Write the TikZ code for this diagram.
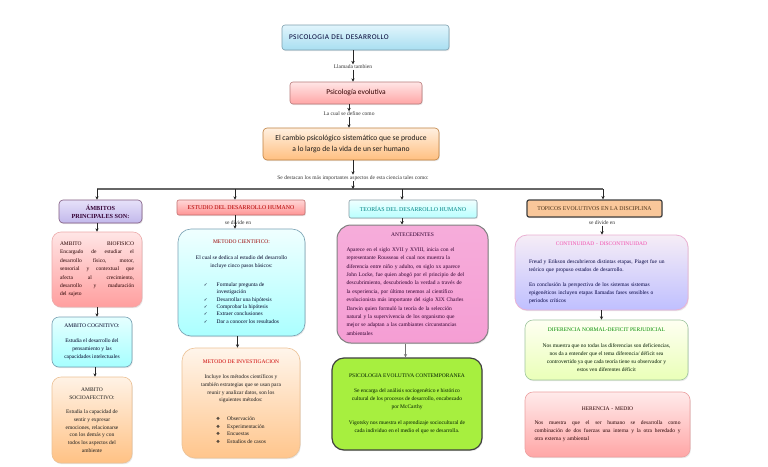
\documentclass[tikz,border=0pt]{standalone}
\usepackage{fontspec}
\setmainfont{Liberation Serif}
\newfontfamily\calib{Carlito}
\newfontfamily\calibsp[LetterSpace=6]{Carlito}
\newfontfamily\djv{DejaVu Sans}
\usetikzlibrary{arrows.meta,shadows}
\newcommand\fs{\fontsize{5.5}{8}\selectfont}
\newcommand\jl[2]{\makebox[#1][s]{\spaceskip=0.25em plus 1fil\relax #2}}
\definecolor{antpink}{RGB}{245,158,212}
\definecolor{evogreen}{RGB}{167,239,63}
\definecolor{topor}{RGB}{249,199,154}
\definecolor{lavtop}{RGB}{230,225,249}
\definecolor{lavbot}{RGB}{194,184,235}
\definecolor{b1top}{RGB}{225,245,252}
\definecolor{b1bot}{RGB}{168,222,241}
\begin{document}
\begin{tikzpicture}[x=1pt,y=-1pt,
  bx/.style={rounded corners=#1, inner sep=2pt, line width=0.6pt, align=center, font=\fs,
    drop shadow={opacity=0.18,shadow xshift=0.8pt,shadow yshift=-1.2pt}},
  bx/.default=8pt,
  lb/.style={font=\fontsize{5.5}{6.5}\selectfont, inner sep=0.6pt, text=black!80},
  arr/.style={-{Stealth[length=3.4pt,width=3.4pt]}, line width=0.7pt, draw=black!85},
  arrg/.style={-{Stealth[length=3.4pt,width=3.4pt,open]}, line width=0.6pt, draw=black!55}]
\path[use as bounding box, fill=white] (0,0) rectangle (768,466);

% ---- top chain ----
\node[bx=3pt, top color=b1top, bottom color=b1bot, draw=cyan!30!gray,
  minimum width=167pt, minimum height=25pt, text width=153pt, align=left, inner xsep=7pt,
  font=\calibsp\fontsize{7.3}{8}\selectfont, text=blue!20!black] (b1) at (365.5,37.5) {PSICOLOGIA DEL DESARROLLO};
\node[lb] (l1) at (353,67) {Llamada tambien};
\node[bx=3pt, top color=red!10, bottom color=red!35!white, draw=red!30!gray!80,
  minimum width=132pt, minimum height=22pt, font=\calib\fontsize{7.5}{9}\selectfont, text=red!20!black] (b2) at (356,93) {Psicología evolutiva};
\node[lb] (l2) at (349,114) {La cual se define como};
\node[bx=4pt, top color=orange!12, bottom color=orange!50!white, draw=orange!50!gray,
  minimum width=176pt, minimum height=32pt, font=\calib\fontsize{7.6}{11.5}\selectfont, text=black!90] (b3) at (351,144)
  {El cambio psicológico sistemático que se produce\\ a lo largo de la vida de un ser humano};
\node[lb] (l3) at (353,178) {Se destacan los más importantes aspectos de esta ciencia tales como:};

\draw[arr] (b1.south -| l1) -- (l1.north);
\draw[arr] (l1.south) -- (l1.south |- b2.north);
\draw[arr] (b2.south -| l2) -- (l2.north);
\draw[arr] (l2.south) -- (l2.south |- b3.north);
\draw[arr] (b3.south -| l3) -- (l3.north);

\coordinate (d1) at (97,189);
\coordinate (d2) at (235,189);
\coordinate (d3) at (402,189);
\coordinate (d4) at (603,189);
\draw[line width=1.2pt, draw=black!60] (d1) -- (d4);
\draw[arr] (l3.south) -- (l3.south |- d1);

% ---- column 1 ----
\node[bx=4pt, top color=lavtop, bottom color=lavbot, draw=violet!30!gray,
  minimum width=83pt, minimum height=23pt, font=\bfseries\fontsize{6.2}{8}\selectfont, text=violet!40!black] (amb) at (100.5,211.5) {ÁMBITOS\\PRINCIPALES SON:};
\node[bx=9pt, top color=red!10, bottom color=red!38!white, draw=red!30!white!85!gray,
  minimum width=90pt, minimum height=75pt, text width=74pt, align=left, font=\fontsize{5.5}{8.4}\selectfont, text=red!15!black] (bio) at (97,269.5)
  {\jl{74pt}{AMBITO BIOFISICO}\\ \jl{74pt}{Encargado de estudiar el}\\ \jl{74pt}{desarrollo físico, motor,}\\ \jl{74pt}{sensorial y contextual que}\\ \jl{74pt}{afecta al crecimiento,}\\ \jl{74pt}{desarrollo y maduración}\\ del sujeto};
\node[bx=7pt, top color=cyan!10, bottom color=cyan!35!white, draw=cyan!35!gray,
  minimum width=80pt, minimum height=50pt, text=blue!15!black] (cog) at (92,342)
  {AMBITO COGNITIVO:\\[7pt] Estudia el desarrollo del\\ pensamiento y las\\ capacidades intelectuales};
\node[bx=9pt, top color=orange!10, bottom color=orange!48!white, draw=orange!40!white!85!gray,
  minimum width=80pt, minimum height=86pt, font=\fontsize{5.5}{7.7}\selectfont, text=black!90] (soc) at (92,420)
  {AMBITO\\ SOCIOAFECTIVO:\\[7pt] Estudia la capacidad de\\ sentir y expresar\\ emociones, relacionarse\\ con los demás y con\\ todos los aspectos del\\ ambiente};

\draw[arr] (d1) -- (d1 |- amb.north);
\draw[arr] (bio.north |- amb.south) -- (bio.north);
\draw[arr] (bio.south) -- (bio.south |- cog.north);
\draw[arr] ([xshift=3pt]cog.south) -- ([xshift=3pt]cog.south |- soc.north);

% ---- column 2 ----
\node[bx=2pt, top color=red!16, bottom color=red!42!white, draw=red!40!gray!80,
  minimum width=128pt, minimum height=15pt, font=\fontsize{5.9}{8}\selectfont, text=red!70!black] (est) at (241,207.5) {ESTUDIO DEL DESARROLLO HUMANO};
\node[lb] (l4) at (238,223) {se divide en};
\node[bx=13pt, top color=cyan!6, bottom color=cyan!33!white, draw=cyan!35!gray,
  minimum width=127pt, minimum height=107pt, text=blue!15!black] (mc) at (241.5,282.5)
  {\textcolor{red!60!black}{METODO CIENTIFICO:}\\[8pt] El cual se dedica al estudio del desarrollo\\ incluye cinco pasos básicos:\\[12pt]
  {\fontsize{5.5}{7.4}\selectfont\begin{tabular}{@{}l@{\hspace{9pt}}l@{}}
  {\djv\fontsize{4.5}{6}\selectfont ✓} & Formular pregunta de\\
   & investigación\\
  {\djv\fontsize{4.5}{6}\selectfont ✓} & Desarrollar una hipótesis\\
  {\djv\fontsize{4.5}{6}\selectfont ✓} & Comprobar la hipótesis\\
  {\djv\fontsize{4.5}{6}\selectfont ✓} & Extraer conclusiones\\
  {\djv\fontsize{4.5}{6}\selectfont ✓} & Dar a conocer los resultados
  \end{tabular}}};
\node[bx=13pt, top color=orange!8, bottom color=orange!45!white, draw=orange!40!white!85!gray,
  minimum width=118pt, minimum height=110pt, font=\fontsize{5.5}{7.7}\selectfont, text=black!90] (mi) at (241,403)
  {\textcolor{red!80!black}{METODO DE INVESTIGACION}\\[7pt] Incluye los métodos científicos y\\ también estrategias que se usan para\\ reunir y analizar datos, son los\\ siguientes métodos:\\[11pt]
  {\fontsize{5.5}{7.7}\selectfont\begin{tabular}{@{}l@{\hspace{7pt}}l@{}}
  {\djv\fontsize{4.5}{6}\selectfont ❖} & Observación\\
  {\djv\fontsize{4.5}{6}\selectfont ❖} & Experimentación\\
  {\djv\fontsize{4.5}{6}\selectfont ❖} & Encuestas\\
  {\djv\fontsize{4.5}{6}\selectfont ❖} & Estudios de casos
  \end{tabular}\hspace{14pt}}};

\draw[arr] (d2) -- (d2 |- est.north);
\draw[arr] (d2 |- est.south) -- (d2 |- mc.north);
\draw[arr] ([xshift=-4pt]mc.south) -- ([xshift=-4pt]mc.south |- mi.north);

% ---- column 3 ----
\node[bx=2pt, top color=cyan!6, bottom color=cyan!28!white, draw=cyan!20!gray,
  minimum width=128pt, minimum height=18pt, font=\fontsize{5.9}{8}\selectfont, text=teal!70!cyan!80!black] (teo) at (413,209) {TEORÍAS DEL DESARROLLO HUMANO};
\node[bx=14pt, top color=antpink!85!white, bottom color=antpink, draw=black!50, line width=1pt,
  minimum width=151pt, minimum height=118pt, text width=132pt, align=left, font=\fontsize{5.5}{8.4}\selectfont, text=violet!35!black] (ante) at (412.5,284)
  {\makebox[132pt][c]{ANTECEDENTES}\\[6.5pt]
  Aparece en el siglo XVII y XVIII, inicia con el\\
  representante Rousseau el cual nos muestra la\\
  diferencia entre niño y adulto, en siglo xx aparece\\
  John Locke, fue quien abogó por el principio de del\\
  descubrimiento, descubriendo la verdad a través de\\
  la experiencia, por último tenemos al científico\\
  evolucionista más importante del siglo XIX Charles\\
  Darwin quien formuló la teoría de la selección\\
  natural y la supervivencia de los organismo que\\
  mejor se adaptan a las cambiantes circunstancias\\
  ambientales};
\node[bx=12pt, fill=evogreen, draw=black!75, line width=1.2pt,
  minimum width=150pt, minimum height=92pt, text=green!10!black] (evo) at (407,404)
  {PSICOLOGIA EVOLUTIVA CONTEMPORANEA\\[7pt]
  Se encarga del análisis sociogenético e histórico\\ cultural de los procesos de desarrollo, encabezado\\ por McCarthy\\[8pt]
  Vigotsky nos muestra el aprendizaje sociocultural de\\ cada individuo en el medio el que se desarrolla.};

\draw[arr] (d3) -- (d3 |- teo.north);
\draw[arr] (d3 |- teo.south) -- (d3 |- ante.north);
\draw[arrg] ([xshift=-7pt]ante.south) -- ([xshift=-7pt]ante.south |- evo.north);

% ---- column 4 ----
\node[bx=2pt, fill=topor, draw=black!75, line width=1.2pt,
  minimum width=135pt, minimum height=17pt, font=\fontsize{5.8}{8}\selectfont, text=brown!40!black] (top) at (594.5,208.5) {TOPICOS EVOLUTIVOS EN LA DISCIPLINA};
\node[lb] (l5) at (602,223) {se divide en};
\node[bx=12pt, top color=violet!7, bottom color=blue!25!white, draw=magenta!30!white!85!gray, line width=0.8pt,
  minimum width=173pt, minimum height=75pt, text width=145pt, align=left, text=blue!25!black] (cont) at (601.5,272.5)
  {\makebox[145pt][c]{\textcolor{magenta!70!white}{CONTINUIDAD - DISCONTINUIDAD}}\\[10pt]
  Freud y Erikson descubrieron distintas etapas, Piaget fue un\\ teórico que propuso estados de desarrollo.\\[7pt]
  En conclusión la perspectiva de los sistemas sistemas\\ epigenéticos incluyen etapas llamadas fases sensibles o\\ periodos críticos};
\node[bx=8pt, top color=green!5!yellow!5, bottom color=green!30!yellow!28!white, draw=green!25!gray!60,
  minimum width=163pt, minimum height=60pt, text=green!10!black] (dif) at (606.5,350)
  {\textcolor{green!55!black}{DIFERENCIA NORMAL-DEFICIT PERJUDICIAL}\\[8pt]
  Nos muestra que no todas las diferencias son deficiencias,\\ nos da a entender que el tema diferencia/ déficit sea\\ controvertido ya que cada teoría tiene su observador y\\ estos ven diferentes déficit};
\node[bx=8pt, top color=red!8, bottom color=red!35!white, draw=red!35!white!85!gray,
  minimum width=165pt, minimum height=65pt, text width=146pt, align=left, text=red!15!black] (her) at (607.5,424.5)
  {\makebox[146pt][c]{HERENCIA - MEDIO}\\[6pt]
  \jl{146pt}{Nos muestra que el ser humano se desarrolla como}\\
  \jl{146pt}{combinación de dos fuerzas una interna y la otra heredado y}\\
  otra externa y ambiental};

\draw[arr] (d4) -- (d4 |- top.north);
\draw[arr] (l5.south) -- (l5.south |- cont.north);
\draw[arr] (cont.south) -- (cont.south |- dif.north);
\end{tikzpicture}
\end{document}
